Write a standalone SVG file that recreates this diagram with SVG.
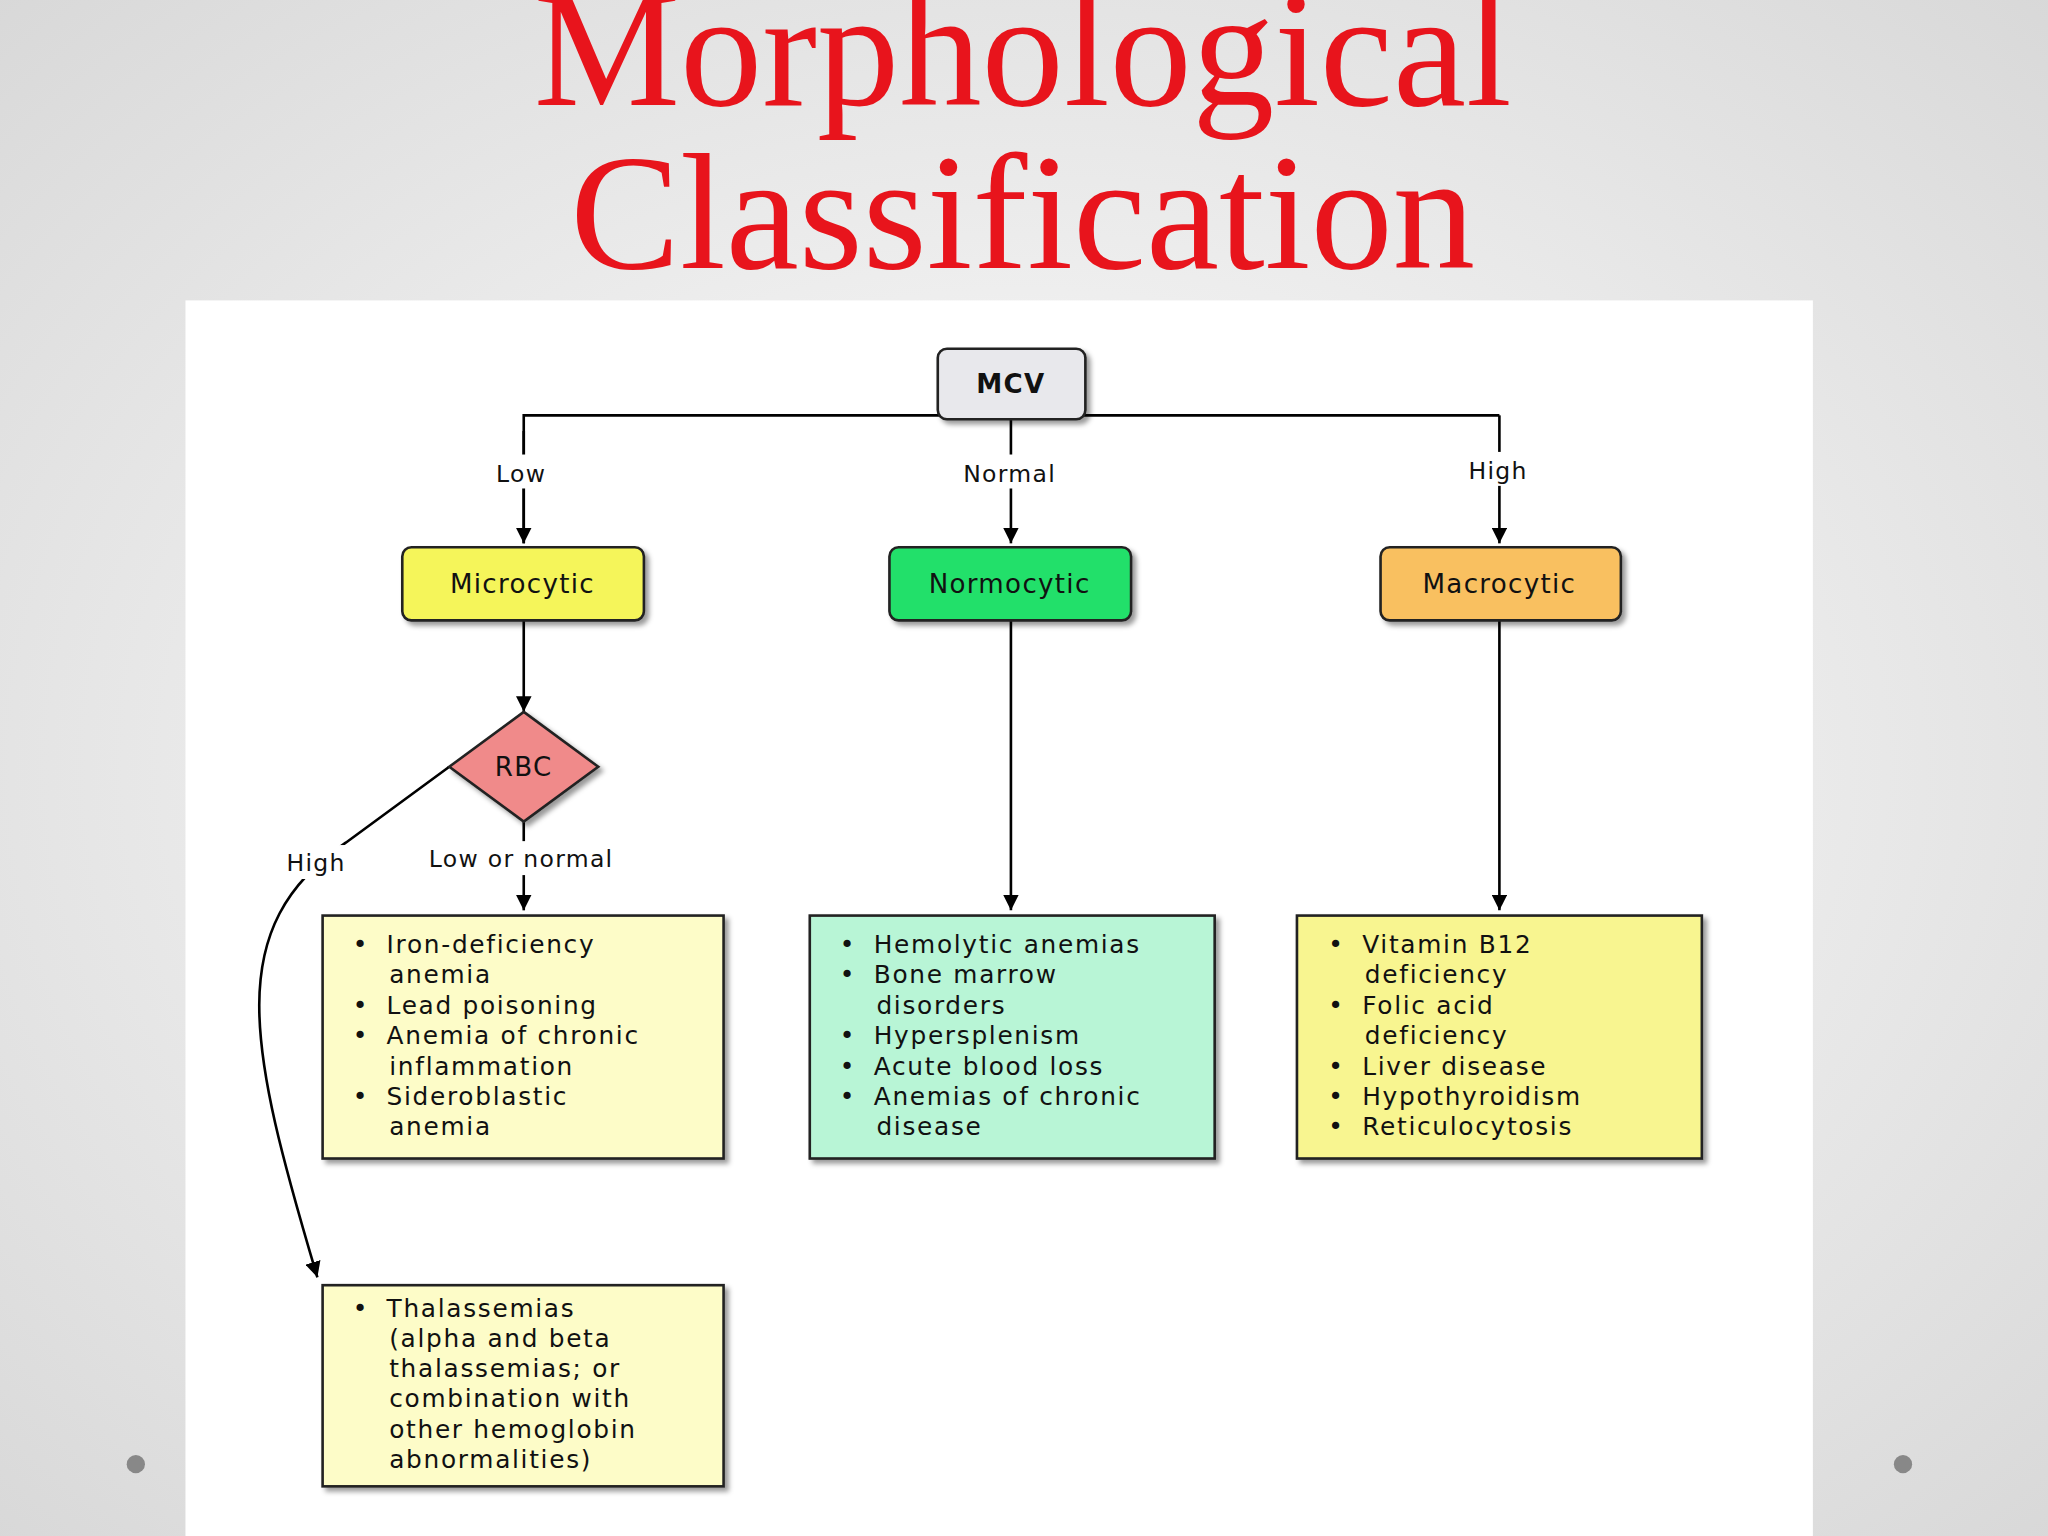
<svg xmlns="http://www.w3.org/2000/svg" width="2048" height="1536" viewBox="0 0 2048 1536">
<defs>
<radialGradient id="bg" cx="0.5" cy="0.5" r="0.75"><stop offset="0" stop-color="#ffffff"/><stop offset="1" stop-color="#d6d6d6"/></radialGradient>
<marker id="ah" viewBox="0 0 10 10" refX="10" refY="5" markerWidth="6" markerHeight="6" orient="auto"><path d="M0,0 L10,5 L0,10 z" fill="#000"/></marker>
<filter id="sh" x="-10%" y="-10%" width="130%" height="130%"><feDropShadow dx="3" dy="3" stdDeviation="2" flood-color="#000" flood-opacity="0.4"/></filter>
</defs>
<style>
.t{font-family:"DejaVu Sans",Verdana,sans-serif;font-size:19px;fill:#111;letter-spacing:1.3px;font-weight:500}
.n{font-family:"DejaVu Sans",Verdana,sans-serif;font-size:20px;fill:#111;text-anchor:middle;letter-spacing:1px}
.l{font-family:"DejaVu Sans",Verdana,sans-serif;font-size:18px;fill:#111;text-anchor:middle;letter-spacing:1px}
.c{fill:none;stroke:#000;stroke-width:2}
.b{stroke:#222;stroke-width:2;filter:url(#sh)}
.title{font-family:"Liberation Serif","Times New Roman",serif;font-size:126px;fill:#e8141c;text-anchor:middle}
</style>
<rect width="2048" height="1536" fill="url(#bg)"/>
<g transform="scale(1.3061)">
<rect x="142" y="230" width="1246" height="946" fill="#fff"/>
<text class="title" x="783" y="80">Morphological</text>
<text class="title" x="783" y="205">Classification</text>
<g id="connectors">
<path class="c" d="M401,416 V318 H1148"/>
<path class="c" d="M401,330 V416" marker-end="url(#ah)"/>
<path class="c" d="M1148,318 V416" marker-end="url(#ah)"/>
<path class="c" d="M774,321 V416" marker-end="url(#ah)"/>
<path class="c" d="M401,475 V545" marker-end="url(#ah)"/>
<path class="c" d="M774,475 V697" marker-end="url(#ah)"/>
<path class="c" d="M1148,475 V697" marker-end="url(#ah)"/>
<path class="c" d="M401,629 V697" marker-end="url(#ah)"/>
<path class="c" d="M344,587 L265,645 C170,710 190,800 243,978" marker-end="url(#ah)"/>
<rect x="366" y="348" width="68" height="26" fill="#fff"/>
<rect x="720" y="348" width="108" height="26" fill="#fff"/>
<rect x="1112" y="346" width="72" height="26" fill="#fff"/>
<rect x="208" y="647" width="66" height="26" fill="#fff"/>
<rect x="312" y="644" width="176" height="26" fill="#fff"/>
<text class="l" x="399" y="369">Low</text>
<text class="l" x="773" y="369">Normal</text>
<text class="l" x="1147" y="367">High</text>
<text class="l" x="242" y="667">High</text>
<text class="l" x="399" y="664">Low or normal</text>
</g>
<g id="mcv"><rect class="b" x="718" y="267" width="113" height="54" rx="7" fill="#e8e8ec"/><text class="n" x="774" y="301" font-weight="bold">MCV</text></g>
<g id="micro"><rect class="b" x="308" y="419" width="185" height="56" rx="7" fill="#f5f55a"/><text class="n" x="400" y="454">Microcytic</text></g>
<g id="normo"><rect class="b" x="681" y="419" width="185" height="56" rx="7" fill="#22e06a"/><text class="n" x="773" y="454">Normocytic</text></g>
<g id="macro"><rect class="b" x="1057" y="419" width="184" height="56" rx="7" fill="#f9c060"/><text class="n" x="1148" y="454">Macrocytic</text></g>
<g id="rbc"><path class="b" d="M401,545 L458,587 L401,629 L344,587 z" fill="#f08a8a"/><text class="n" x="401" y="594">RBC</text></g>
<g id="box1"><rect class="b" x="247" y="701" width="307" height="186" fill="#fdfcc8"/>
<text class="t"><tspan x="270" y="730">•</tspan><tspan x="296" y="730">Iron-deficiency</tspan><tspan x="298" y="753">anemia</tspan><tspan x="270" y="776">•</tspan><tspan x="296" y="776">Lead poisoning</tspan><tspan x="270" y="799">•</tspan><tspan x="296" y="799">Anemia of chronic</tspan><tspan x="298" y="823">inflammation</tspan><tspan x="270" y="846">•</tspan><tspan x="296" y="846">Sideroblastic</tspan><tspan x="298" y="869">anemia</tspan></text></g>
<g id="box2"><rect class="b" x="620" y="701" width="310" height="186" fill="#b8f5d6"/>
<text class="t"><tspan x="643" y="730">•</tspan><tspan x="669" y="730">Hemolytic anemias</tspan><tspan x="643" y="753">•</tspan><tspan x="669" y="753">Bone marrow</tspan><tspan x="671" y="776">disorders</tspan><tspan x="643" y="799">•</tspan><tspan x="669" y="799">Hypersplenism</tspan><tspan x="643" y="823">•</tspan><tspan x="669" y="823">Acute blood loss</tspan><tspan x="643" y="846">•</tspan><tspan x="669" y="846">Anemias of chronic</tspan><tspan x="671" y="869">disease</tspan></text></g>
<g id="box3"><rect class="b" x="993" y="701" width="310" height="186" fill="#f8f590"/>
<text class="t"><tspan x="1017" y="730">•</tspan><tspan x="1043" y="730">Vitamin B12</tspan><tspan x="1045" y="753">deficiency</tspan><tspan x="1017" y="776">•</tspan><tspan x="1043" y="776">Folic acid</tspan><tspan x="1045" y="799">deficiency</tspan><tspan x="1017" y="823">•</tspan><tspan x="1043" y="823">Liver disease</tspan><tspan x="1017" y="846">•</tspan><tspan x="1043" y="846">Hypothyroidism</tspan><tspan x="1017" y="869">•</tspan><tspan x="1043" y="869">Reticulocytosis</tspan></text></g>
<g id="box4"><rect class="b" x="247" y="984" width="307" height="154" fill="#fdfcc8"/>
<text class="t"><tspan x="270" y="1008">•</tspan><tspan x="296" y="1008">Thalassemias</tspan><tspan x="298" y="1031">(alpha and beta</tspan><tspan x="298" y="1054">thalassemias; or</tspan><tspan x="298" y="1077">combination with</tspan><tspan x="298" y="1101">other hemoglobin</tspan><tspan x="298" y="1124">abnormalities)</tspan></text></g>
<circle cx="104" cy="1121" r="7" fill="#888"/>
<circle cx="1457" cy="1121" r="7" fill="#888"/>
</g>
</svg>
